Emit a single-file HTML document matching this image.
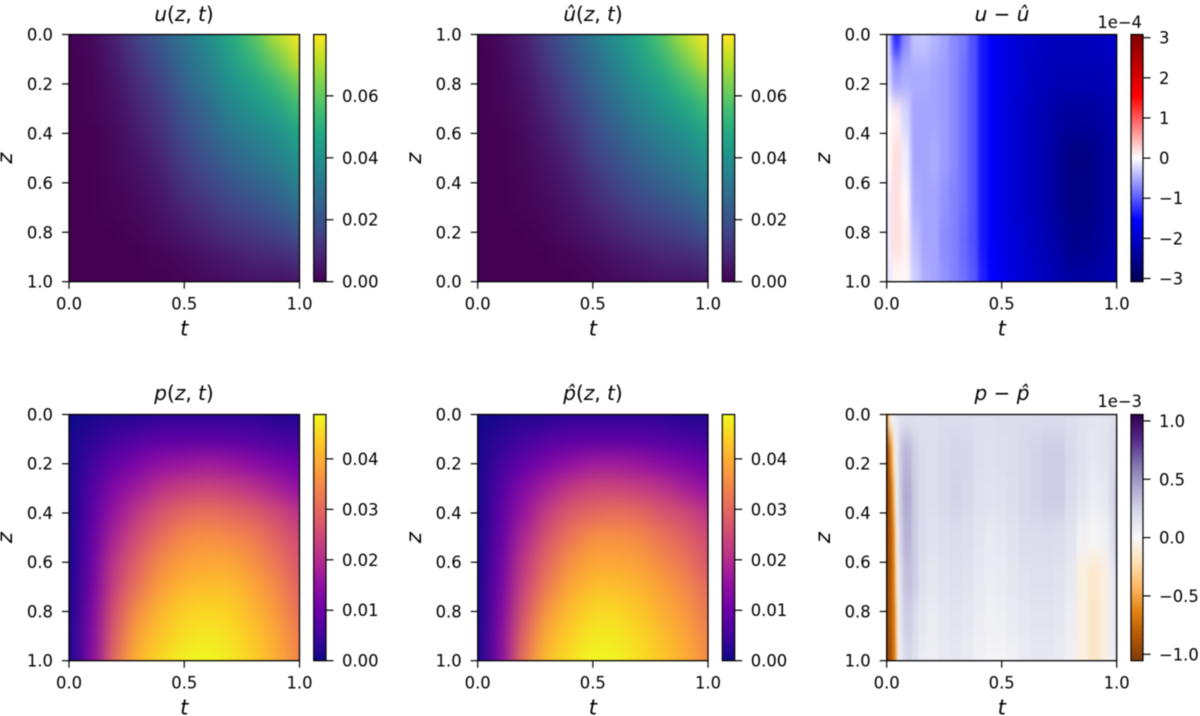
<!DOCTYPE html>
<html lang="en">
<head>
<meta charset="utf-8">
<title>u and p fields, predictions and residuals</title>
<style>
html,body{margin:0;padding:0;background:#fff;width:1200px;height:716px;overflow:hidden}
svg{display:block;filter:blur(.45px)}
text{font-family:"DejaVu Sans","Liberation Sans",sans-serif;fill:#000}
.tick{font-size:16.4px}
.ttl{font-size:20px}
.lab{font-size:21px;font-style:italic}
.i{font-style:italic}
</style>
</head>
<body>
<svg id="fig" xmlns="http://www.w3.org/2000/svg" width="1200" height="716" viewBox="0 0 1200 716">
  <defs id="defs">
    <filter id="blurSmooth" color-interpolation-filters="sRGB" filterUnits="userSpaceOnUse" x="-100" y="-100" width="1400" height="916"><feGaussianBlur stdDeviation="9"/></filter>
    <filter id="blurErrU" color-interpolation-filters="sRGB" filterUnits="userSpaceOnUse" x="-100" y="-100" width="1400" height="916"><feGaussianBlur stdDeviation="2.2 11"/></filter>
    <filter id="blurErrP" color-interpolation-filters="sRGB" filterUnits="userSpaceOnUse" x="-100" y="-100" width="1400" height="916"><feGaussianBlur stdDeviation="1.4 11"/></filter>
  </defs>
  <g id="plots"></g>
  <text class="ttl" x="184" y="21" text-anchor="middle"><tspan class="i">u</tspan>(<tspan class="i">z</tspan>, <tspan class="i">t</tspan>)</text>
  <text class="ttl" x="593" y="21" text-anchor="middle"><tspan class="i">û</tspan>(<tspan class="i">z</tspan>, <tspan class="i">t</tspan>)</text>
  <text class="ttl" x="1002" y="21" text-anchor="middle"><tspan class="i">u</tspan> − <tspan class="i">û</tspan></text>
  <text class="ttl" x="184" y="400" text-anchor="middle"><tspan class="i">p</tspan>(<tspan class="i">z</tspan>, <tspan class="i">t</tspan>)</text>
  <text class="ttl" x="593" y="400" text-anchor="middle"><tspan class="i">p̂</tspan>(<tspan class="i">z</tspan>, <tspan class="i">t</tspan>)</text>
  <text class="ttl" x="1002" y="400" text-anchor="middle"><tspan class="i">p</tspan> − <tspan class="i">p̂</tspan></text>
  <text class="tick" x="1142" y="28" text-anchor="end">1e−4</text>
  <text class="tick" x="1142" y="407" text-anchor="end">1e−3</text>
</svg>
<script>
// ---------- data ----------
const smoothT = [0,.1,.2,.3,.4,.5,.6,.7,.8,.9,1];
const zAscending = [0,.1,.2,.3,.4,.5,.6,.7,.8,.9,1];
const zDescending = [1,.9,.8,.7,.6,.5,.4,.3,.2,.1,0];
const uValues = [
[0,.002,.007,.016,.023,.031,.039,.048,.058,.071,.0798],
[0,.001,.006,.013,.019,.028,.035,.044,.052,.062,.074],
[0,.001,.004,.010,.016,.025,.032,.040,.046,.053,.063],
[0,.001,.003,.008,.013,.021,.027,.035,.041,.045,.054],
[0,0,.002,.006,.011,.018,.024,.031,.035,.039,.047],
[0,0,.002,.004,.008,.015,.020,.026,.030,.034,.041],
[0,0,.001,.003,.006,.012,.016,.021,.025,.028,.035],
[0,0,.001,.002,.004,.008,.012,.016,.019,.022,.029],
[0,0,0,.001,.003,.005,.008,.011,.013,.016,.020],
[0,0,0,0,.001,.002,.004,.006,.008,.009,.012],
[0,0,0,0,0,.001,.002,.003,.004,.004,.005]];
const uHatValues = [
[0,.002,.007,.015,.023,.032,.040,.048,.058,.071,.0798],
[0,.001,.006,.013,.020,.028,.036,.044,.052,.063,.074],
[0,.001,.004,.010,.017,.025,.032,.040,.046,.054,.063],
[0,.001,.003,.008,.014,.021,.028,.035,.041,.046,.054],
[0,0,.002,.006,.011,.018,.024,.030,.035,.040,.047],
[0,0,.002,.004,.008,.015,.020,.026,.030,.034,.041],
[0,0,.001,.003,.006,.011,.016,.021,.025,.029,.035],
[0,0,.001,.002,.004,.008,.012,.016,.019,.022,.028],
[0,0,0,.001,.003,.005,.008,.011,.013,.016,.020],
[0,0,0,0,.001,.002,.004,.006,.008,.009,.012],
[0,0,0,0,0,.001,.002,.003,.004,.004,.005]];
const pValues = [
[.000,.001,.002,.002,.003,.003,.003,.003,.003,.002,.002],
[.001,.003,.005,.007,.008,.008,.008,.008,.007,.006,.005],
[.001,.005,.009,.012,.015,.016,.017,.016,.014,.012,.010],
[.001,.007,.013,.017,.021,.023,.024,.023,.021,.018,.015],
[.001,.008,.016,.022,.027,.030,.031,.030,.028,.025,.021],
[.001,.009,.019,.026,.031,.035,.036,.035,.033,.029,.025],
[.001,.010,.022,.029,.035,.038,.039,.039,.036,.032,.027],
[.001,.011,.024,.032,.038,.041,.042,.042,.039,.035,.029],
[.001,.012,.027,.036,.041,.044,.045,.044,.041,.037,.031],
[.001,.013,.029,.039,.043,.046,.047,.046,.043,.039,.033],
[.001,.013,.031,.041,.045,.048,.0488,.047,.044,.040,.034]];
const pHatValues = [
[.000,.001,.002,.002,.003,.003,.003,.003,.003,.002,.002],
[.001,.003,.005,.007,.008,.008,.008,.008,.007,.006,.005],
[.001,.005,.009,.012,.015,.017,.017,.016,.014,.012,.010],
[.001,.007,.013,.018,.022,.024,.024,.023,.021,.018,.015],
[.001,.008,.016,.023,.028,.030,.031,.030,.027,.025,.021],
[.001,.009,.019,.027,.032,.036,.036,.035,.032,.029,.025],
[.001,.010,.022,.030,.036,.039,.039,.038,.035,.032,.027],
[.001,.011,.024,.033,.039,.042,.042,.041,.038,.035,.030],
[.001,.012,.027,.037,.042,.045,.045,.043,.040,.037,.032],
[.001,.013,.030,.040,.044,.047,.047,.045,.042,.039,.034],
[.001,.013,.032,.042,.046,.0488,.048,.046,.043,.040,.035]];
const uErrT = [0,.042,.083,.125,.167,.208,.25,.292,.333,.375,.417,.458,.5,.542,.583,.625,.667,.708,.75,.792,.833,.875,.917,.958,1];
const errZ = [0,.167,.333,.5,.667,.833,1];
const uErrValues = [
[-.2,-1.3,-.7,-.35,-.35,-.45,-.55,-.7,-.8,-1.05,-1.4,-1.6,-1.75,-1.85,-1.95,-2,-2.05,-2.1,-2.1,-2.1,-2.1,-2.1,-2.1,-2.05,-2],
[-.2,-.6,-.5,-.5,-.5,-.55,-.6,-.7,-.85,-1.05,-1.4,-1.6,-1.75,-1.85,-1.95,-2.05,-2.1,-2.15,-2.2,-2.2,-2.2,-2.2,-2.2,-2.15,-2.05],
[0,.1,-.25,-.55,-.55,-.55,-.6,-.7,-.85,-1.05,-1.4,-1.6,-1.75,-1.9,-2,-2.1,-2.2,-2.25,-2.35,-2.4,-2.4,-2.4,-2.35,-2.3,-2.2],
[0,.2,-.1,-.55,-.55,-.5,-.6,-.7,-.85,-1.05,-1.4,-1.6,-1.75,-1.9,-2,-2.1,-2.2,-2.3,-2.45,-2.6,-2.65,-2.6,-2.5,-2.4,-2.3],
[-.1,.2,.05,-.5,-.55,-.55,-.65,-.75,-.85,-1.05,-1.4,-1.6,-1.75,-1.9,-2,-2.1,-2.2,-2.3,-2.45,-2.6,-2.6,-2.6,-2.5,-2.4,-2.3],
[-.1,.2,.1,-.4,-.55,-.55,-.7,-.75,-.9,-1.05,-1.4,-1.6,-1.75,-1.85,-1.95,-2.05,-2.15,-2.25,-2.35,-2.5,-2.55,-2.5,-2.45,-2.35,-2.25],
[-.15,.05,.05,-.3,-.5,-.55,-.65,-.75,-.85,-1,-1.35,-1.55,-1.7,-1.8,-1.9,-2,-2.05,-2.15,-2.25,-2.35,-2.35,-2.35,-2.3,-2.25,-2.2]];
const pErrT = [0,.01,.02,.03,.04,.05,.06,.08,.1,.12,.15,.2,.25,.3,.35,.4,.45,.5,.55,.6,.65,.7,.75,.8,.85,.9,.95,.98,1];
const pErrValues = [
[-.6,-.2,0,.05,.1,.12,.15,.17,.17,.17,.17,.18,.2,.2,.2,.18,.18,.2,.2,.2,.2,.2,.2,.18,.15,.13,.14,.17,.2],
[-.95,-.85,-.55,-.2,.05,.15,.3,.38,.36,.25,.2,.18,.21,.23,.22,.18,.17,.18,.2,.22,.24,.27,.27,.21,.16,.12,.14,.2,.28],
[-1,-.9,-.75,-.45,0,.15,.3,.42,.41,.28,.2,.18,.21,.24,.22,.17,.15,.16,.19,.22,.24,.27,.27,.2,.13,.08,.1,.2,.35],
[-1,-.9,-.8,-.6,-.1,.1,.25,.38,.38,.27,.2,.16,.18,.2,.18,.13,.1,.12,.15,.19,.2,.2,.19,.14,.05,.01,.04,.15,.32],
[-1,-.9,-.8,-.65,-.25,.05,.2,.32,.33,.27,.17,.12,.15,.17,.15,.11,.08,.09,.12,.15,.17,.17,.15,.1,-.08,-.14,-.08,.08,.22],
[-1,-.9,-.8,-.7,-.4,.02,.15,.26,.27,.2,.12,.08,.12,.14,.12,.08,.05,.06,.09,.12,.14,.14,.12,.07,-.08,-.15,-.08,.08,.18],
[-1,-.95,-.85,-.7,-.5,0,.1,.2,.22,.17,.08,.07,.1,.11,.09,.05,.02,.02,.05,.09,.11,.11,.09,.05,-.08,-.15,-.08,.06,.15]];
const tTickValues = [0,.5,1];
const tTickLabels = ['0.0','0.5','1.0'];
const zTickValues = [0,.2,.4,.6,.8,1];
const zTickLabels = ['0.0','0.2','0.4','0.6','0.8','1.0'];
const uBarTicks = [0,.02,.04,.06];
const uBarLabels = ['0.00','0.02','0.04','0.06'];
const pBarTicks = [0,.01,.02,.03,.04];
const pBarLabels = ['0.00','0.01','0.02','0.03','0.04'];
const uErrBarTicks = [-3,-2,-1,0,1,2,3];
const uErrBarLabels = ['−3','−2','−1','0','1','2','3'];
const pErrBarTicks = [-1,-.5,0,.5,1];
const pErrBarLabels = ['−1.0','−0.5','0.0','0.5','1.0'];

// ---------- colormaps ----------
const viridis = ['#440154','#482475','#414487','#355f8d','#2a788e','#21918c','#22a884','#44bf70','#7ad151','#bddf26','#fde725'];
const plasma = ['#0d0887','#41049d','#6a00a8','#8f0da4','#b12a90','#cc4778','#e16462','#f2844b','#fca636','#fcce25','#f0f921'];
const seismic = ['#00004d','#0000ff','#ffffff','#ff0000','#800000'];
const puor = ['#7f3b08','#b35806','#e08214','#fdb863','#fee0b6','#f7f7f7','#d8daeb','#b2abd2','#8073ac','#542788','#2d004b'];

function hexToRgb(h){return [1,3,5].map(function(i){return parseInt(h.substr(i,2),16);});}
function colorAt(map,f){
  f=Math.max(0,Math.min(1,f));
  const p=f*(map.length-1),i=Math.min(map.length-2,Math.floor(p)),k=p-i;
  const a=hexToRgb(map[i]),b=hexToRgb(map[i+1]);
  return 'rgb('+a.map(function(v,j){return Math.round(v+(b[j]-v)*k);}).join(',')+')';
}

// ---------- panels ----------
const panels = [
 {key:'u',x0:69,x1:299.5,y0:34.5,y1:281.7,bx0:313.7,bx1:326,zTop:0,zBot:1,ts:smoothT,zs:zAscending,vals:uValues,map:viridis,vmin:0,vmax:.0798,ticks:uBarTicks,labels:uBarLabels,filter:'blurSmooth',zx:5},
 {key:'u-hat',x0:477.7,x1:708,y0:34.5,y1:281.7,bx0:722.3,bx1:734.7,zTop:1,zBot:0,ts:smoothT,zs:zDescending,vals:uHatValues,map:viridis,vmin:0,vmax:.0798,ticks:uBarTicks,labels:uBarLabels,filter:'blurSmooth',zx:414},
 {key:'u-residual',x0:886.7,x1:1116.7,y0:34.5,y1:281.7,bx0:1131,bx1:1143,zTop:0,zBot:1,ts:uErrT,zs:errZ,vals:uErrValues,map:seismic,vmin:-3.08,vmax:3.08,ticks:uErrBarTicks,labels:uErrBarLabels,filter:'blurErrU',zx:823},
 {key:'p',x0:69,x1:299.5,y0:414.5,y1:660.7,bx0:313.7,bx1:326,zTop:0,zBot:1,ts:smoothT,zs:zAscending,vals:pValues,map:plasma,vmin:0,vmax:.0488,ticks:pBarTicks,labels:pBarLabels,filter:'blurSmooth',zx:5},
 {key:'p-hat',x0:477.7,x1:708,y0:414.5,y1:660.7,bx0:722.3,bx1:734.7,zTop:0,zBot:1,ts:smoothT,zs:zAscending,vals:pHatValues,map:plasma,vmin:0,vmax:.0488,ticks:pBarTicks,labels:pBarLabels,filter:'blurSmooth',zx:414},
 {key:'p-residual',x0:886.7,x1:1116.7,y0:414.5,y1:660.7,bx0:1131,bx1:1143,zTop:0,zBot:1,ts:pErrT,zs:errZ,vals:pErrValues,map:puor,vmin:-1.055,vmax:1.055,ticks:pErrBarTicks,labels:pErrBarLabels,filter:'blurErrP',zx:823}
];

const NS='http://www.w3.org/2000/svg';
const root=document.getElementById('plots');
const defs=document.getElementById('defs');
function mk(tag,attrs,parent){
  const e=document.createElementNS(NS,tag);
  for(const k in attrs){e.setAttribute(k,attrs[k]);}
  parent.appendChild(e);
  return e;
}
function xScale(p,t){return p.x0+t*(p.x1-p.x0);}
function yScale(p,z){return p.y0+(z-p.zTop)/(p.zBot-p.zTop)*(p.y1-p.y0);}
function barScale(p,v){return p.y1-(v-p.vmin)/(p.vmax-p.vmin)*(p.y1-p.y0);}
function colorScale(p,v){return colorAt(p.map,(v-p.vmin)/(p.vmax-p.vmin));}

const PAD=45;
panels.forEach(function(p,pi){
  const group=mk('g',{},root);
  
  

  // heatmap
  const clip=mk('clipPath',{id:'clip'+pi},defs);
  mk('rect',{x:p.x0,y:p.y0,width:p.x1-p.x0,height:p.y1-p.y0},clip);
  const holder=mk('g',{'clip-path':'url(#clip'+pi+')'},group);
  
  
  const blurred=mk('g',{filter:'url(#'+p.filter+')','shape-rendering':'crispEdges'},holder);
  p.zs.forEach(function(z,r){
    const top=r===0?p.y0-PAD:(yScale(p,p.zs[r-1])+yScale(p,z))/2;
    const bot=r===p.zs.length-1?p.y1+PAD:(yScale(p,z)+yScale(p,p.zs[r+1]))/2;
    p.ts.forEach(function(t,c){
      const left=c===0?p.x0-PAD:(xScale(p,p.ts[c-1])+xScale(p,t))/2;
      const right=c===p.ts.length-1?p.x1+PAD:(xScale(p,t)+xScale(p,p.ts[c+1]))/2;
      const cell=mk('rect',{x:left,y:top,width:right-left+.6,height:bot-top+.6,fill:colorScale(p,p.vals[r][c])},blurred);
      
      
    });
  });

  // axes frame
  const frame=mk('rect',{x:p.x0,y:p.y0,width:p.x1-p.x0,height:p.y1-p.y0,fill:'none',stroke:'#000','stroke-width':1.3},group);
  
  

  // t ticks
  tTickValues.forEach(function(v,i){
    const x=xScale(p,v);
    const tk=mk('line',{x1:x,x2:x,y1:p.y1,y2:p.y1+7,stroke:'#000','stroke-width':1.2},group);
    
    
    const lb=mk('text',{x:x,y:p.y1+28,'text-anchor':'middle','class':'tick'},group);
    
    
    lb.textContent=tTickLabels[i];
  });
  // z ticks
  zTickValues.forEach(function(v,i){
    const y=yScale(p,v);
    const tk=mk('line',{x1:p.x0-7,x2:p.x0,y1:y,y2:y,stroke:'#000','stroke-width':1.2},group);
    
    
    const lb=mk('text',{x:p.x0-16,y:y+6,'text-anchor':'end','class':'tick'},group);
    
    
    lb.textContent=zTickLabels[i];
  });
  // axis labels
  const xl=mk('text',{x:(p.x0+p.x1)/2,y:p.y1+54,'text-anchor':'middle','class':'lab'},group);
  
  
  xl.textContent='t';
  const ymid=(p.y0+p.y1)/2;
  const yl=mk('text',{x:p.zx,y:ymid,'text-anchor':'middle','dominant-baseline':'central','class':'lab',transform:'rotate(-90 '+p.zx+' '+ymid+')'},group);
  
  
  yl.textContent='z';

  // colorbar
  const grad=mk('linearGradient',{id:'bar'+pi,x1:0,y1:1,x2:0,y2:0},defs);
  for(let s=0;s<=40;s++){
    mk('stop',{offset:s/40,'stop-color':colorAt(p.map,s/40)},grad);
  }
  const bar=mk('rect',{x:p.bx0,y:p.y0,width:p.bx1-p.bx0,height:p.y1-p.y0,fill:'url(#bar'+pi+')',stroke:'#000','stroke-width':1.2},group);
  
  
  p.ticks.forEach(function(v,i){
    const y=barScale(p,v);
    const tk=mk('line',{x1:p.bx1,x2:p.bx1+7.5,y1:y,y2:y,stroke:'#000','stroke-width':1.2},group);
    
    
    const lb=mk('text',{x:p.bx1+16,y:y+6,'class':'tick'},group);
    
    
    lb.textContent=p.labels[i];
  });
});
</script>
</body>
</html>
